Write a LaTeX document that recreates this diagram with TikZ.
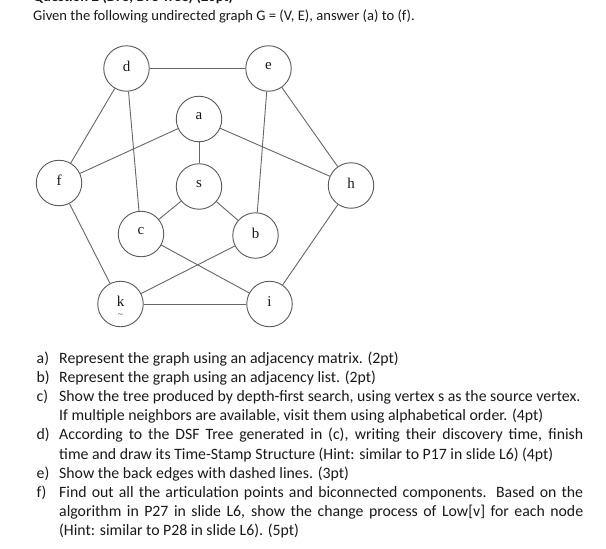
\documentclass[tikz,border=0pt]{standalone}
\usepackage{fontspec}
\setmainfont{Carlito}
\newfontfamily\tnr{Liberation Serif}
\begin{document}
\begin{tikzpicture}[x=1pt,y=-1pt,
  lbl/.style={inner sep=0pt,font=\tnr\fontsize{15}{15}\selectfont,text=black!90,yshift=2.5pt},
  vtx/.style={circle,draw=black!65,line width=0.9pt,minimum size=45.5pt,inner sep=0pt,fill=white,
    label={[lbl]center:#1}},
  edge/.style={draw=black!60,line width=0.9pt},
  txt/.style={anchor=base west,inner sep=0pt,font=\fontsize{15.8}{18}\selectfont,text=black!90},
  hdr/.style={anchor=base west,inner sep=0pt,font=\fontsize{14.6}{17}\selectfont,text=black!90},
  title/.style={anchor=base west,inner sep=0pt,font=\bfseries\fontsize{14.6}{17}\selectfont,text=black!90}]
\useasboundingbox (0,0) rectangle (606,549);
% header
\node[title] (t0) at (33,1.5) {Question 2 (DFS, DFS Tree) (20pt)};
\node[hdr] (t1) at (33,20) {Given the following undirected graph G = (V, E), answer (a) to (f).};
% vertices
\node[vtx=d] (d) at (126.5,68.5) {};
\node[vtx=e] (e) at (268.5,68.5) {};
\node[vtx=a] (a) at (199,119) {};
\node[vtx=f] (f) at (59,183) {};
\node[vtx=s] (s) at (199,186.5) {};
\node[vtx=h] (h) at (351,185.5) {};
\node[vtx=c] (c) at (141,234) {};
\node[vtx=b] (b) at (255.5,235.5) {};
\node[vtx=k] (k) at (120.5,304) {};
\node[vtx=i] (i) at (269.5,304) {};
\node[inner sep=0pt,font=\tnr\fontsize{9}{9}\selectfont,text=black!75] (kt) at (120.5,315.5) {\textasciitilde};
% edges
\draw[edge] (d) -- (e);
\draw[edge] (d) -- (f);
\draw[edge] (d) -- (c);
\draw[edge] (e) -- (b);
\draw[edge] (e) -- (h);
\draw[edge] (a) -- (f);
\draw[edge] (a) -- (s);
\draw[edge] (a) -- (h);
\draw[edge] (s) -- (c);
\draw[edge] (s) -- (b);
\draw[edge] (f) -- (k);
\draw[edge] (c) -- (i);
\draw[edge] (b) -- (k);
\draw[edge] (k) -- (i);
\draw[edge] (h) -- (i);
% questions
\node[txt] (la) at (36.5,363) {a)};
\node[txt] (qa) at (59,363) {Represent the graph using an adjacency matrix. (2pt)};
\node[txt] (lb) at (36.5,382.2) {b)};
\node[txt] (qb) at (59,382.2) {Represent the graph using an adjacency list. (2pt)};
\node[txt] (lc) at (36.5,401.4) {c)};
\node[txt] (qc1) at (59,401.4) {Show the tree produced by depth-first search, using vertex s as the source vertex.};
\node[txt] (qc2) at (59,420.6) {If multiple neighbors are available, visit them using alphabetical order. (4pt)};
\node[txt] (ld) at (36.5,439.8) {d)};
\node[txt] (qd1) at (59,439.8) {\makebox[524pt][s]{According to the DSF Tree generated in (c), writing their discovery time, finish}};
\node[txt] (qd2) at (59,459) {time and draw its Time-Stamp Structure (Hint: similar to P17 in slide L6) (4pt)};
\node[txt] (le) at (36.5,478.2) {e)};
\node[txt] (qe) at (59,478.2) {Show the back edges with dashed lines. (3pt)};
\node[txt] (lf) at (36.5,497.4) {f)};
\node[txt] (qf1) at (59,497.4) {\makebox[524pt][s]{Find out all the articulation points and biconnected components. Based on the}};
\node[txt] (qf2) at (59,516.6) {\makebox[524pt][s]{algorithm in P27 in slide L6, show the change process of Low[v] for each node}};
\node[txt] (qf3) at (59,535.8) {(Hint: similar to P28 in slide L6). (5pt)};
\end{tikzpicture}
\end{document}
